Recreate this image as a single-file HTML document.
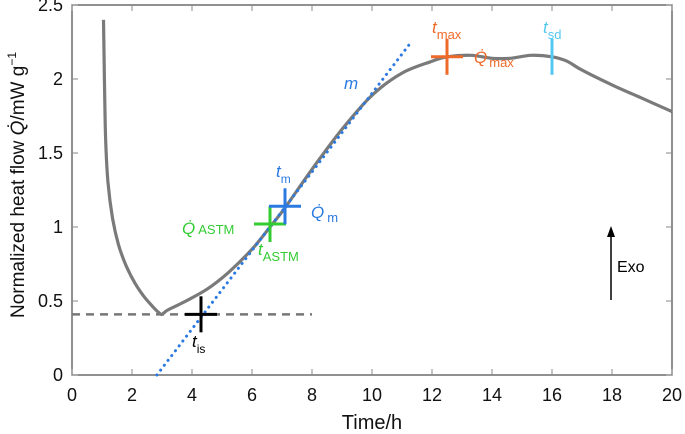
<!DOCTYPE html>
<html><head><meta charset="utf-8"><style>
body{margin:0;background:#fff}
svg{display:block;font-family:"Liberation Sans",sans-serif}
</style></head><body>
<svg id="c" width="685" height="434">
</svg>
<script>
const xTicks=[0,2,4,6,8,10,12,14,16,18,20];
const yTicks=[0,0.5,1,1.5,2,2.5];
const yTickLabels=["0","0.5","1","1.5","2","2.5"];
const curveT=[1.05,1.08,1.12,1.2,1.35,1.55,1.8,2.1,2.4,2.7,2.9,3.0,3.2,3.8,4.5,5.2,6,6.6,7.1,8,9,10,11,12,12.5,13.3,14,14.6,15.3,16,16.5,17,18,19,20];
const curveQ=[2.4,2.0,1.6,1.3,1.06,0.88,0.74,0.62,0.53,0.46,0.42,0.41,0.44,0.5,0.58,0.69,0.85,1.0,1.13,1.39,1.66,1.89,2.04,2.12,2.15,2.16,2.14,2.14,2.16,2.15,2.12,2.06,1.96,1.87,1.78];
const tangentT=[2.83,11.27];
const tangentQ=[0,2.24];
const baselineQ=0.41, baselineT=[0,8];
const tis=[4.3,0.41], tm=[7.1,1.14], tastm=[6.6,1.02], tmax=[12.5,2.15], tsd=[16,2.15];
const X=t=>72+t*30, Y=q=>375-q*148;
const S='http://www.w3.org/2000/svg';
const svg=document.getElementById('c');
function el(n,a,p){const e=document.createElementNS(S,n);for(const k in a)e.setAttribute(k,a[k]);(p||svg).appendChild(e);return e;}
const fr=el('rect',{x:72,y:5,width:600,height:370,fill:'none',stroke:'#555','stroke-width':1.3});


xTicks.forEach(t=>{
 el('line',{x1:X(t),x2:X(t),y1:375,y2:369,stroke:'#888'});
 el('line',{x1:X(t),x2:X(t),y1:5,y2:11,stroke:'#888'});
 const tx=el('text',{x:X(t),y:401,'font-size':18,'text-anchor':'middle',fill:'#111'});tx.textContent=t;
 
 
});
yTicks.forEach((q,i)=>{
 el('line',{x1:72,x2:78,y1:Y(q),y2:Y(q),stroke:'#888'});
 el('line',{x1:672,x2:666,y1:Y(q),y2:Y(q),stroke:'#888'});
 const tx=el('text',{x:63,y:Y(q)+6,'font-size':18,'text-anchor':'end',fill:'#111'});tx.textContent=yTickLabels[i];
 
 
});
const xt=el('text',{x:372,y:429,'font-size':20,'text-anchor':'middle',fill:'#111'});xt.textContent='Time/h';


const yt=el('text',{x:0,y:0,'font-size':19,'text-anchor':'middle',fill:'#111',transform:'translate(24,185) rotate(-90)'});
yt.innerHTML='Normalized heat flow <tspan font-style="italic">Q̇</tspan>/mW g<tspan font-size="12" dy="-8">−1</tspan>';


const bl=el('line',{x1:X(baselineT[0]),x2:X(baselineT[1]),y1:Y(baselineQ),y2:Y(baselineQ),stroke:'#777','stroke-width':2.5,'stroke-dasharray':'8,6'});


const P=curveT.map((t,i)=>[X(t),Y(curveQ[i])]);
let d='M'+P[0][0].toFixed(1)+','+P[0][1].toFixed(1);
for(let i=0;i<P.length-1;i++){
 const p0=P[i-1]||P[i],p1=P[i],p2=P[i+1],p3=P[i+2]||p2;
 const c1=[p1[0]+(p2[0]-p0[0])/6,p1[1]+(p2[1]-p0[1])/6];
 const c2=[p2[0]-(p3[0]-p1[0])/6,p2[1]-(p3[1]-p1[1])/6];
 d+=' C'+c1.map(v=>v.toFixed(1))+' '+c2.map(v=>v.toFixed(1))+' '+p2.map(v=>v.toFixed(1));
}
const cv=el('path',{d:d,fill:'none',stroke:'#7a7a7a','stroke-width':3.2,'stroke-linejoin':'round'});


const tg=el('line',{x1:X(tangentT[0]),y1:Y(tangentQ[0]),x2:X(tangentT[1]),y2:Y(tangentQ[1]),stroke:'#2a7ae2','stroke-width':3,'stroke-dasharray':'0.1,6','stroke-linecap':'round'});


function cross(p,c,name,h){
 const g=el('g',{});
 
 
 el('line',{x1:X(p[0]),x2:X(p[0]),y1:Y(p[1])-18,y2:Y(p[1])+18,stroke:c,'stroke-width':3},g);
 if(h)el('line',{x1:X(p[0])-16,x2:X(p[0])+16,y1:Y(p[1]),y2:Y(p[1]),stroke:c,'stroke-width':3},g);
}
cross(tis,'#000','marker-t-is',1);
cross(tastm,'#33cc33','marker-t-astm',1);
cross(tm,'#2a7ae2','marker-t-m',1);
cross(tmax,'#ee6a2a','marker-t-max',1);
cross(tsd,'#55c8f0','marker-t-sd',0);
function lab(x,y,c,html,name){const t=el('text',{x:x,y:y,'font-size':17,fill:c});t.innerHTML=html;
 
 }
lab(192,347,'#000','<tspan font-style="italic">t</tspan><tspan font-size="12" dy="6">is</tspan>','label-t-is');
lab(258,255,'#33cc33','<tspan font-style="italic">t</tspan><tspan font-size="13" dy="6">ASTM</tspan>','label-t-astm');
lab(182,234,'#33cc33','<tspan font-style="italic">Q̇</tspan><tspan font-size="13" dx="3">ASTM</tspan>','label-q-astm');
lab(276,177,'#2a7ae2','<tspan font-style="italic">t</tspan><tspan font-size="12" dy="6">m</tspan>','label-t-m');
lab(311,218,'#2a7ae2','<tspan font-style="italic">Q̇</tspan><tspan font-size="13" dx="3" dy="4">m</tspan>','label-q-m');
lab(344,89,'#2a7ae2','<tspan font-style="italic">m</tspan>','label-m');
lab(432,33,'#ee6a2a','<tspan font-style="italic">t</tspan><tspan font-size="13" dy="6">max</tspan>','label-t-max');
lab(474,63,'#ee6a2a','<tspan font-style="italic">Q̇</tspan><tspan font-size="13" dx="2" dy="4">max</tspan>','label-q-max');
lab(543,33,'#55c8f0','<tspan font-style="italic">t</tspan><tspan font-size="13" dy="6">sd</tspan>','label-t-sd');
const ex=el('g',{});


el('line',{x1:611,x2:611,y1:300,y2:236,stroke:'#000','stroke-width':1.5},ex);
el('polygon',{points:'607,237 615,237 611,226',fill:'#000'},ex);
const et=el('text',{x:617,y:272,'font-size':16,fill:'#000'},ex);et.textContent='Exo';
</script>
</body></html>
